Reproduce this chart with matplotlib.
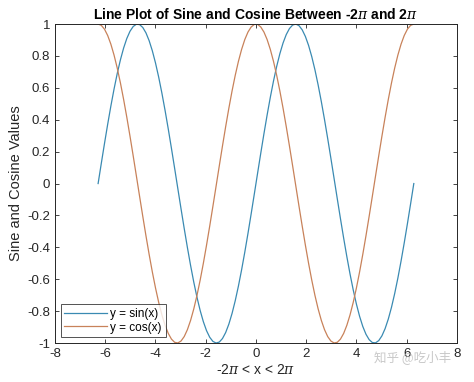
import numpy as np
import matplotlib
matplotlib.use("Agg")
import matplotlib.pyplot as plt

plt.rcParams['font.family'] = ['Liberation Sans', 'DejaVu Sans']
plt.rcParams['mathtext.fontset'] = 'custom'
plt.rcParams['mathtext.it'] = 'DejaVu Serif:italic'

n_points = 100
x = np.linspace(-2 * np.pi, 2 * np.pi, n_points)
y_sin = np.sin(x)
y_cos = np.cos(x)
labels = ["y = sin(x)", "y = cos(x)"]
xticks = [-8, -6, -4, -2, 0, 2, 4, 6, 8]
yticks = [-1, -0.8, -0.6, -0.4, -0.2, 0, 0.2, 0.4, 0.6, 0.8, 1]

fig = plt.figure(figsize=(4.74, 3.82), dpi=100)
ax = fig.add_axes([0.116, 0.102, 0.848, 0.835])
ax.plot(x, y_sin, color="#3a8ab2", lw=0.9, label=labels[0])
ax.plot(x, y_cos, color="#c8825a", lw=0.9, label=labels[1])
ax.set_xlim(-8, 8)
ax.set_ylim(-1, 1)
ax.set_xticks(xticks)
ax.set_yticks(yticks)
ax.set_xticklabels([str(t) for t in xticks])
ax.set_yticklabels([("%g" % t) for t in yticks])
ax.tick_params(direction='in', top=True, right=True, labelsize=9.5, colors='#262626', length=3, width=0.6)
for s in ax.spines.values():
    s.set_linewidth(0.7)
    s.set_color('#262626')
ax.set_title(r"Line Plot of Sine and Cosine Between -2$\pi$ and 2$\pi$", fontsize=10, fontweight='bold', pad=4)
ax.set_xlabel(r"-2$\pi$ < x < 2$\pi$", fontsize=10, labelpad=2, color='#262626')
ax.set_ylabel("Sine and Cosine Values", fontsize=10.5, labelpad=3, color='#262626')
leg = ax.legend(loc='lower left', fontsize=8.5, frameon=True, fancybox=False, handlelength=3.6,
                borderaxespad=0.5, borderpad=0.3, labelspacing=0.15, handletextpad=0.3)
leg.get_frame().set_edgecolor('#262626')
leg.get_frame().set_linewidth(0.7)
fig.text(0.79, 0.055, "知乎 @吃小丰", fontsize=9, color='#bbbbbb', alpha=0.8,
         family=['Noto Sans CJK SC', 'DejaVu Sans'])
fig.savefig("out.png", dpi=100)
